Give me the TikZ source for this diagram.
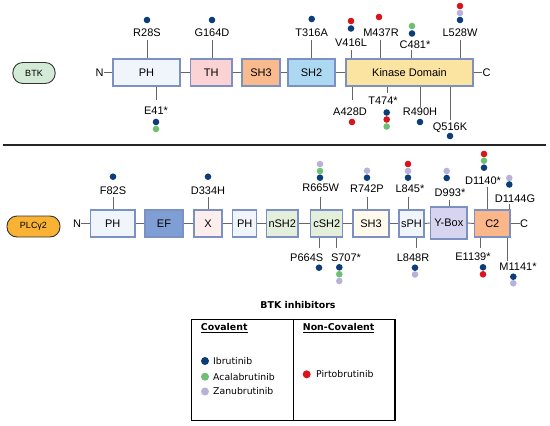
\documentclass[tikz,border=0pt]{standalone}
\usepackage{fontspec}
\setmainfont{Liberation Sans}
\newfontfamily\legfont{DejaVu Sans}
\definecolor{boxc}{HTML}{7B91C3}
\definecolor{linec}{HTML}{666666}
\definecolor{dblue}{HTML}{0B3D78}
\definecolor{dgreen}{HTML}{6FBF73}
\definecolor{dlilac}{HTML}{B8B2D8}
\definecolor{dred}{HTML}{D9141B}
\definecolor{cPH}{HTML}{F0F4FB}
\definecolor{cTH}{HTML}{FBD3D5}
\definecolor{cSHt}{HTML}{F9BB8E}
\definecolor{cSHz}{HTML}{ACD8F2}
\definecolor{cKin}{HTML}{FBE3A1}
\definecolor{cEF}{HTML}{7F9FD4}
\definecolor{cX}{HTML}{FDEEEE}
\definecolor{cSHg}{HTML}{E3EFDB}
\definecolor{cSHy}{HTML}{FFFAEB}
\definecolor{cYB}{HTML}{D7D4EF}
\definecolor{cCt}{HTML}{FBB68A}
\definecolor{btkg}{HTML}{D2EAD6}
\definecolor{plco}{HTML}{F9B233}
\newcommand\mutup[7]{%
  \coordinate (#1t) at (#2,#3);
  \node[lab] (#1) at (#5,#6) {#7};
  \draw[conn] (#1t) -- (#1t |- #4.north);}
\newcommand\mutdn[7]{%
  \coordinate (#1t) at (#2,#3);
  \node[lab] (#1) at (#5,#6) {#7};
  \draw[conn] (#1t) -- (#1t |- #4.south);}
\newcommand\mdot[4]{\node[mdotst, fill=#2] (#1) at (#3,#4) {};}
\begin{document}
\begin{tikzpicture}[x=1pt,y=-1pt,
  dom/.style={draw=boxc, line width=1.2pt, minimum height=27pt, inner sep=0pt, font=\fontsize{11}{13}\selectfont},
  conn/.style={draw=linec, line width=0.9pt},
  lab/.style={inner sep=0pt, text height=8pt, text depth=0pt, font=\fontsize{11}{13}\selectfont},
  mdotst/.style={circle, inner sep=0pt, minimum size=6.6pt},
  pill/.style={draw=black!80, line width=0.9pt, rounded corners=10pt, inner sep=0pt, minimum height=21pt, font=\fontsize{9}{11}\selectfont},
  ldot/.style={circle, inner sep=0pt, minimum size=8pt},
  ltxt/.style={inner sep=0pt, anchor=west, font=\legfont\fontsize{9.3}{11}\selectfont},
  lhead/.style={inner sep=0pt, anchor=west, font=\legfont\bfseries\fontsize{9.4}{11}\selectfont}]
\useasboundingbox (0,0) rectangle (550,426);
% ---------------- BTK ----------------
\node[pill, fill=btkg, minimum width=42.3pt] (btk) at (34,73) {BTK};
\node[dom, fill=cPH, minimum width=67pt] (bPH) at (146.5,72.5) {PH};
\node[dom, fill=cTH, minimum width=41.3pt] (bTH) at (211.3,72.5) {TH};
\node[dom, fill=cSHt, minimum width=38pt] (bSH3) at (261,72.5) {SH3};
\node[dom, fill=cSHz, minimum width=47pt] (bSH2) at (311.5,72.5) {SH2};
\node[dom, fill=cKin, minimum width=127pt] (bKin) at (409.5,72.5) {Kinase Domain};
\node[lab] (bN) at (99.5,72.5) {N};
\node[lab] (bC) at (486.5,72.5) {C};
\draw[conn] (bN.east) -- (bPH.west);
\draw[conn] (bPH.east) -- (bTH.west);
\draw[conn] (bTH.east) -- (bSH3.west);
\draw[conn] (bSH3.east) -- (bSH2.west);
\draw[conn] (bSH2.east) -- (bKin.west);
\draw[conn] (bKin.east) -- (bC.west);
% top mutations
\mutup{m1}{147}{40}{bPH}{147}{32}{R28S}
\mdot{m1a}{dblue}{147}{20}
\mutup{m2}{212}{40}{bTH}{212}{32}{G164D}
\mdot{m2a}{dblue}{212}{20}
\mutup{m3}{311.7}{40}{bSH2}{311.7}{32}{T316A}
\mdot{m3a}{dblue}{311.7}{19}
\mutup{m4}{351}{50}{bKin}{351}{42}{V416L}
\mdot{m4a}{dred}{351}{21}
\mdot{m4b}{dblue}{351}{28.5}
\mutup{m5}{380}{40}{bKin}{381}{32}{M437R}
\mdot{m5a}{dred}{379}{17}
\mutup{m6}{411.7}{50}{bKin}{415}{44}{C481*}
\mdot{m6a}{dgreen}{412}{26}
\mdot{m6b}{dblue}{412}{33.5}
\mutup{m7}{460}{40}{bKin}{460}{32}{L528W}
\mdot{m7a}{dred}{460}{6}
\mdot{m7b}{dlilac}{460}{13}
\mdot{m7c}{dblue}{460}{20}
% bottom mutations
\mutdn{m8}{156}{100}{bPH}{156}{110}{E41*}
\mdot{m8a}{dblue}{156}{122}
\mdot{m8b}{dgreen}{156}{129}
\mutdn{m9}{352.7}{100}{bKin}{350}{111}{A428D}
\mdot{m9a}{dred}{352}{122}
\mutdn{m10}{387.7}{93}{bKin}{383}{100}{T474*}
\mdot{m10a}{dblue}{386.7}{112.5}
\mdot{m10b}{dred}{386.7}{119.5}
\mdot{m10c}{dgreen}{386.7}{126.5}
\mutdn{m11}{420.7}{106.5}{bKin}{420}{111}{R490H}
\mdot{m11a}{dblue}{420}{122}
\mutdn{m12}{450}{120}{bKin}{450}{126}{Q516K}
\mdot{m12a}{dblue}{450}{136}
% divider
\coordinate (dvl) at (3,145);
\coordinate (dvr) at (546,145);
\draw[line width=2pt, black!85] (dvl) -- (dvr);
% ---------------- PLCg2 ----------------
\node[pill, fill=plco, minimum width=53pt] (plc) at (33.5,226.5) {PLCγ2};
\node[dom, fill=cPH, minimum width=44.3pt] (pPH) at (112.8,223.5) {PH};
\node[dom, fill=cEF, minimum width=38pt] (pEF) at (164,223.5) {EF};
\node[dom, fill=cX, minimum width=28pt] (pX) at (208,223.5) {X};
\node[dom, fill=cPH, minimum width=24pt] (pPHb) at (244.7,223.5) {PH};
\node[dom, fill=cSHg, minimum width=31.3pt] (pnSH) at (282.3,223.5) {nSH2};
\node[dom, fill=cSHg, minimum width=32pt] (pcSH) at (326.7,223.5) {cSH2};
\node[dom, fill=cSHy, minimum width=36pt] (pSH3) at (371,223.5) {SH3};
\node[dom, fill=cPH, minimum width=25pt] (psPH) at (411.5,223.5) {sPH};
\node[dom, fill=cYB, minimum width=36.3pt, minimum height=32pt, line width=1.5pt] (pYB) at (448.8,223) {Y-Box};
\node[dom, fill=cCt, minimum width=35.3pt] (pC2) at (492.3,223.5) {C2};
\node[lab] (pN) at (77,223.5) {N};
\node[lab] (pC) at (524,223.5) {C};
\draw[conn] (pN.east) -- (pPH.west);
\draw[conn] (pPH.east) -- (pEF.west);
\draw[conn] (pEF.east) -- (pX.west);
\draw[conn] (pX.east) -- (pPHb.west);
\draw[conn] (pPHb.east) -- (pnSH.west);
\draw[conn] (pnSH.east) -- (pcSH.west);
\draw[conn] (pcSH.east) -- (pSH3.west);
\draw[conn] (pSH3.east) -- (psPH.west);
\draw[conn] (psPH.east) -- (pYB.west);
\draw[conn] (pYB.east) -- (pC2.west);
\draw[conn] (pC2.east) -- (pC.west);
% top mutations
\mutup{p1}{113}{197}{pPH}{113}{190.7}{F82S}
\mdot{p1a}{dblue}{113}{176.7}
\mutup{p2}{208}{197}{pX}{208}{190.7}{D334H}
\mdot{p2a}{dblue}{208}{176.7}
\mutup{p3}{320}{196.7}{pcSH}{320.7}{187.7}{R665W}
\mdot{p3a}{dlilac}{320}{164}
\mdot{p3b}{dgreen}{320}{171}
\mdot{p3c}{dblue}{320}{177.7}
\mutup{p4}{367}{196.7}{pSH3}{367}{188}{R742P}
\mdot{p4a}{dlilac}{367}{170.7}
\mdot{p4b}{dblue}{367}{177.7}
\mutup{p5}{408}{196.7}{psPH}{410}{188}{L845*}
\mdot{p5a}{dred}{408}{164}
\mdot{p5b}{dlilac}{408}{171}
\mdot{p5c}{dblue}{408}{177.7}
\mutup{p6}{449}{200}{pYB}{450}{192.7}{D993*}
\mdot{p6a}{dlilac}{446.7}{171}
\mdot{p6b}{dblue}{446.7}{178}
\mutup{p7}{487}{186.7}{pC2}{483}{180}{D1140*}
\mdot{p7a}{dred}{484}{154}
\mdot{p7b}{dgreen}{484}{160.7}
\mdot{p7c}{dblue}{484}{167.7}
\mutup{p8}{509.5}{204}{pC2}{515}{198}{D1144G}
\mdot{p8a}{dlilac}{509.3}{178}
\mdot{p8b}{dblue}{509.3}{184.5}
% bottom mutations
\mutdn{p9}{319}{248}{pcSH}{306.7}{257.3}{P664S}
\mdot{p9a}{dblue}{319}{267.7}
\mutdn{p10}{336.7}{248}{pcSH}{346}{257.3}{S707*}
\mdot{p10a}{dblue}{339.3}{267.3}
\mdot{p10b}{dgreen}{339.3}{274.2}
\mdot{p10c}{dlilac}{339.3}{281}
\mutdn{p11}{416}{248}{psPH}{413}{257.3}{L848R}
\mdot{p11a}{dblue}{415}{267.7}
\mdot{p11b}{dlilac}{415}{274.5}
\mutdn{p12}{480}{248}{pC2}{473}{256.7}{E1139*}
\mdot{p12a}{dblue}{483}{267.3}
\mdot{p12b}{dred}{483}{274.3}
\mutdn{p13}{507.7}{260.7}{pC2}{518}{266.7}{M1141*}
\mdot{p13a}{dblue}{513.3}{276.7}
\mdot{p13b}{dlilac}{513.3}{283.3}
% ---------------- Legend ----------------
\node[inner sep=0pt, font=\legfont\bfseries\fontsize{9.4}{11}\selectfont] (ltitle) at (298,305) {BTK inhibitors};
\node[draw, line width=1.4pt, minimum width=203.3pt, minimum height=101.4pt, inner sep=0pt] (legbox) at (293.35,370) {};
\coordinate (ldiv) at (293.3,370);
\draw[line width=1.4pt] (ldiv |- legbox.north) -- (ldiv |- legbox.south);
\node[lhead] (lcov) at (200.7,328) {\underline{Covalent}};
\node[lhead] (lnon) at (302.7,328) {\underline{Non-Covalent}};
\node[ldot, fill=dblue] (lib) at (205,361) {};
\node[ltxt] (libt) at (213,361) {Ibrutinib};
\node[ldot, fill=dgreen] (lac) at (205,376.7) {};
\node[ltxt] (lact) at (213,376.7) {Acalabrutinib};
\node[ldot, fill=dlilac] (lza) at (205,391.5) {};
\node[ltxt] (lzat) at (213,391.5) {Zanubrutinib};
\node[ldot, fill=dred] (lpi) at (306.7,374.3) {};
\node[ltxt] (lpit) at (316,374.3) {Pirtobrutinib};
\end{tikzpicture}
\end{document}
